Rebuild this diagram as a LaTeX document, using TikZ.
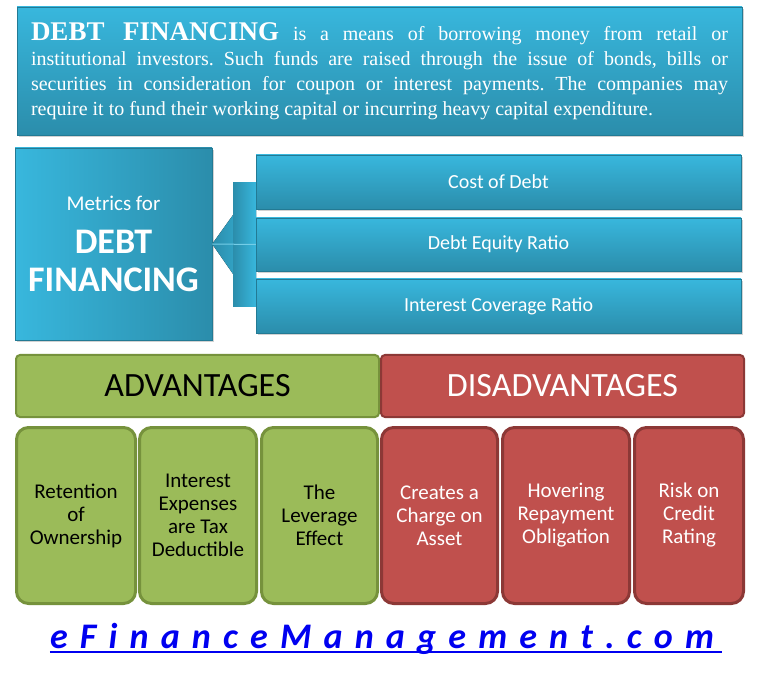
\documentclass[tikz,border=0pt]{standalone}
\usepackage{fontspec}
\setmainfont{Liberation Serif}
\newfontfamily\calibri{Carlito}
\usetikzlibrary{shadows}

\definecolor{tealtop}{HTML}{38B7DD}
\definecolor{tealbot}{HTML}{2B8DAB}
\definecolor{tealedge}{HTML}{237A94}
\definecolor{advfill}{HTML}{9BBB59}
\definecolor{advedge}{HTML}{76923C}
\definecolor{disfill}{HTML}{C0504D}
\definecolor{disedge}{HTML}{8C3836}
\definecolor{siteblue}{HTML}{0000F0}

\begin{document}
\frenchspacing
\begin{tikzpicture}[x=1pt, y=-1pt,
    introbox/.style={top color=tealtop, bottom color=tealbot, draw=tealedge, line width=0.6pt,
        drop shadow={shadow xshift=1.5pt, shadow yshift=-2.5pt, opacity=0.35},
        text=white, minimum width=725pt, minimum height=128pt, inner xsep=14pt},
    metricbox/.style={left color=tealtop, right color=tealbot, draw=tealedge, line width=0.4pt,
        drop shadow={shadow xshift=1.5pt, shadow yshift=-2.5pt, opacity=0.35},
        text=white, minimum width=197pt, minimum height=192pt, align=center},
    barbox/.style={top color=tealtop, bottom color=tealbot, draw=tealedge, line width=0.4pt,
        drop shadow={shadow xshift=1.5pt, shadow yshift=-2.5pt, opacity=0.35},
        text=white, minimum width=485pt, minimum height=#1,
        font=\calibri\fontsize{20}{23}\selectfont},
    headbox/.style={rounded corners=4pt, line width=2pt, minimum width=363pt, minimum height=62pt,
        font=\calibri\fontsize{34}{36}\selectfont},
    itembox/.style={rounded corners=12pt, line width=3pt, minimum height=176pt, align=center,
        font=\calibri\fontsize{21}{23}\selectfont},
    advstyle/.style={fill=advfill, draw=advedge, text=black},
    disstyle/.style={fill=disfill, draw=disedge, text=white}]

    \useasboundingbox[fill=white] (0,0) rectangle (768,684);

    % Definition box
    \node[introbox, text width=697pt, align=justify,
          font=\fontsize{20}{25}\selectfont] (intro) at (379.5,71)
        {{\fontsize{27}{25}\selectfont\bfseries DEBT FINANCING} is a means of borrowing money from retail or\linebreak
         institutional investors. Such funds are raised through the issue of bonds, bills or\linebreak
         securities in consideration for coupon or interest payments. The companies may\linebreak
         require it to fund their working capital or incurring heavy capital expenditure.};

    % Metrics block
    \node[metricbox, font=\calibri\fontsize{21}{38}\selectfont] (metrics) at (113.5,244)
        {Metrics for\\[5pt]{\fontsize{36}{38}\selectfont\bfseries DEBT}\\{\fontsize{36}{38}\selectfont\bfseries FINANCING}};

    % Bracket behind the bars
    \coordinate (brtop) at (256,183);
    \coordinate (brbot) at (256,307);
    \fill[left color=tealbot, right color=tealtop] (metrics.east) -- (brtop) -- (brbot) -- cycle;
    \fill[left color=tealbot, right color=tealtop] ([xshift=-23pt]brtop) rectangle (brbot);

    \node[barbox=54pt] (cost) at (498.5,182) {Cost of Debt};
    \node[barbox=53pt] (equity) at (498.5,244.5) {Debt Equity Ratio};
    \node[barbox=54pt] (cover) at (498.5,306) {Interest Coverage Ratio};
    \draw[tealtop!70!white, line width=1pt] (metrics.east) -- (equity.west);

    % Headers
    \node[headbox, advstyle] (adv) at (197.5,386) {ADVANTAGES};
    \node[headbox, disstyle] (dis) at (562.5,386) {DISADVANTAGES};

    % Advantages
    \node[itembox, advstyle, minimum width=119pt] (own) at (76,515.5) {Retention\\of\\Ownership};
    \node[itembox, advstyle, minimum width=117pt] (tax) at (198,515.5) {Interest\\Expenses\\are Tax\\Deductible};
    \node[itembox, advstyle, minimum width=116pt] (lev) at (319.5,515.5) {The\\Leverage\\Effect};

    % Disadvantages
    \node[itembox, disstyle, minimum width=116pt] (charge) at (439.5,515.5) {Creates a\\Charge on\\Asset};
    \node[itembox, disstyle, minimum width=127pt] (repay) at (566,515.5) {Hovering\\Repayment\\Obligation};
    \node[itembox, disstyle, minimum width=109pt] (risk) at (689,515.5) {Risk on\\Credit\\Rating};

    % Footer
    \node[anchor=base, inner sep=0pt, text=siteblue,
          font=\calibri\fontsize{36}{40}\selectfont\bfseries\itshape] (site) at (382,648)
        {\makebox[664pt][s]{e\hfil F\hfil i\hfil n\hfil a\hfil n\hfil c\hfil e\hfil M\hfil a\hfil n\hfil a\hfil g\hfil e\hfil m\hfil e\hfil n\hfil t\hfil .\hfil c\hfil o\hfil m}};
    \draw[siteblue, line width=2pt] ([yshift=-4pt]site.base west) -- ([yshift=-4pt, xshift=8pt]site.base east);

\end{tikzpicture}
\end{document}
